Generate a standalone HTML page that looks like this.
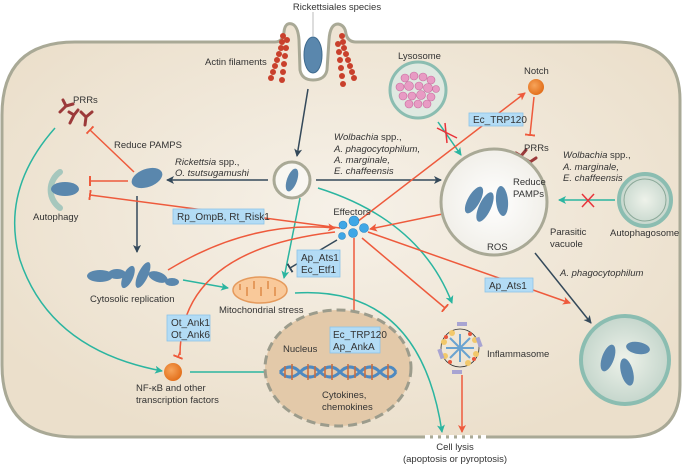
<!DOCTYPE html>
<html><head><style>
html,body{margin:0;padding:0;background:#fff;}
svg{display:block;font-family:"Liberation Sans",sans-serif;}
</style></head><body>
<svg width="685" height="464" viewBox="0 0 685 464" xmlns="http://www.w3.org/2000/svg">
<defs>
<radialGradient id="bg" cx="0.5" cy="0.45" r="0.6"><stop offset="0" stop-color="#f6f1e8"/><stop offset="1" stop-color="#ebdfcb"/></radialGradient>
<radialGradient id="vac" cx="0.5" cy="0.5" r="0.5"><stop offset="0" stop-color="#fff"/><stop offset="1" stop-color="#f1efe9"/></radialGradient>
<radialGradient id="grn" cx="0.5" cy="0.5" r="0.5"><stop offset="0" stop-color="#eef2ea"/><stop offset="1" stop-color="#c5d6cc"/></radialGradient>
<radialGradient id="org" cx="0.4" cy="0.4" r="0.6"><stop offset="0" stop-color="#f7a45a"/><stop offset="1" stop-color="#e3711d"/></radialGradient>
<marker id="ad" markerWidth="8" markerHeight="8" refX="7" refY="4" orient="auto" markerUnits="userSpaceOnUse"><path d="M0,0 L8,4 L0,8 L2,4z" fill="#34495a"/></marker>
<marker id="at" markerWidth="8" markerHeight="8" refX="7" refY="4" orient="auto" markerUnits="userSpaceOnUse"><path d="M0,0 L8,4 L0,8 L2,4z" fill="#2bb5a0"/></marker>
<marker id="ar" markerWidth="8" markerHeight="8" refX="7" refY="4" orient="auto" markerUnits="userSpaceOnUse"><path d="M0,0 L8,4 L0,8 L2,4z" fill="#ee5a3c"/></marker>
<marker id="br" markerWidth="2" markerHeight="10" refX="1" refY="5" orient="auto" markerUnits="userSpaceOnUse"><rect x="0" y="0" width="2" height="10" fill="#ee5a3c"/></marker>
<marker id="bd" markerWidth="2" markerHeight="10" refX="1" refY="5" orient="auto" markerUnits="userSpaceOnUse"><rect x="0" y="0" width="2" height="10" fill="#34495a"/></marker>
</defs>
<path d="M75,42 L275,42 Q283,42 284,32 Q285,22 292,24 Q298,26 299,40 L300,70 Q302,80 313,80 Q325,80 327,70 L329,40 Q330,24 338,24 Q345,25 346,34 Q348,42 356,42 L615,42 Q680,42 680,100 L680,385 Q680,437 628,437 L75,437 Q2,437 2,365 L2,115 Q2,42 75,42 Z" fill="url(#bg)" stroke="#a9a996" stroke-width="3"/>
<line x1="425" y1="437" x2="487" y2="437" stroke="#fff" stroke-width="4" stroke-dasharray="5,3"/>
<g fill="#c9402c">
<circle cx="283" cy="36" r="3"/><circle cx="282" cy="42" r="3"/><circle cx="281" cy="48" r="3"/><circle cx="279" cy="54" r="3"/><circle cx="277" cy="60" r="3"/><circle cx="275" cy="66" r="3"/><circle cx="273" cy="72" r="3"/><circle cx="271" cy="78" r="3"/>
<circle cx="287" cy="40" r="3"/><circle cx="286" cy="48" r="3"/><circle cx="285" cy="56" r="3"/><circle cx="284" cy="64" r="3"/><circle cx="283" cy="72" r="3"/><circle cx="282" cy="80" r="3"/>
<circle cx="342" cy="36" r="3"/><circle cx="343" cy="42" r="3"/><circle cx="344" cy="48" r="3"/><circle cx="346" cy="54" r="3"/><circle cx="348" cy="60" r="3"/><circle cx="350" cy="66" r="3"/><circle cx="352" cy="72" r="3"/><circle cx="354" cy="78" r="3"/>
<circle cx="338" cy="44" r="3"/><circle cx="339" cy="52" r="3"/><circle cx="340" cy="60" r="3"/><circle cx="341" cy="68" r="3"/><circle cx="342" cy="76" r="3"/><circle cx="343" cy="84" r="3"/>
</g>
<line x1="313" y1="12" x2="313" y2="36" stroke="#bbb" stroke-width="1"/>
<ellipse cx="313" cy="55" rx="9" ry="18" fill="#5a87ad" stroke="#3f6a8e"/>
<g fill="none" stroke="#2bb5a0" stroke-width="1.5">
<path d="M55,128 Q0,190 20,260 Q50,350 162,371" marker-end="url(#at)"/>
<path d="M300,198 L284,278" marker-end="url(#at)"/>
<path d="M318,188 Q420,220 452,303" marker-end="url(#at)"/>
<path d="M183,280 L228,288" marker-end="url(#at)"/>
<path d="M295,293 Q420,285 442,432" marker-end="url(#at)"/>
<path d="M190,372 L275,372" marker-end="url(#at)"/>
<path d="M297,378 L297,400 L318,400" marker-end="url(#at)"/>
<path d="M438,122 L461,155" marker-end="url(#at)"/>
<path d="M615,200 L559,200" marker-end="url(#at)"/>
</g>
<g fill="none" stroke="#34495a" stroke-width="1.5">
<path d="M308,89 L297,156" marker-end="url(#ad)"/>
<path d="M268,180 L167,180" marker-end="url(#ad)"/>
<path d="M316,180 L441,180" marker-end="url(#ad)"/>
<path d="M137,196 L137,252" marker-end="url(#ad)"/>
<path d="M535,253 L591,323" marker-end="url(#ad)"/>
<path d="M337,240 L290,268" marker-end="url(#bd)"/>
</g>
<g fill="none" stroke="#ee5a3c" stroke-width="1.5">
<path d="M134,172 L90,130" marker-end="url(#br)"/>
<path d="M128,181 L90,181" marker-end="url(#br)"/>
<path d="M340,228 L90,195" marker-end="url(#br)"/>
<path d="M168,270 Q250,220 335,228" marker-end="url(#ar)"/>
<path d="M180,355 Q180,250 335,232" />
<path d="M180,352 L178,357" marker-end="url(#br)"/>
<path d="M357,222 L525,93" marker-end="url(#ar)"/>
<path d="M534,97 L530,135" marker-end="url(#br)"/>
<path d="M506,180 L513,166" marker-end="url(#br)"/>
<path d="M457,211 L370,229" marker-end="url(#ar)"/>
<path d="M493,225 L493,240" marker-end="url(#br)"/>
<path d="M354,238 L354,362" marker-end="url(#br)"/>
<path d="M362,238 L445,308" marker-end="url(#br)"/>
<path d="M368,232 L570,303" marker-end="url(#ar)"/>
<path d="M462,375 L462,432" marker-end="url(#ar)"/>
</g>
<g stroke="#e8333a" stroke-width="1.5">
<line x1="437" y1="128" x2="457" y2="138"/><line x1="445" y1="123" x2="447" y2="143"/>
<line x1="582" y1="194" x2="594" y2="207"/><line x1="594" y1="194" x2="582" y2="207"/>
</g>
<g fill="none" stroke="#9c3a3a" stroke-width="3" stroke-linecap="round">
<path d="M60,112 L66,106 L63,100 M66,106 L73,104"/>
<path d="M70,123 L74,115 L69,112 M74,115 L78,110"/>
<path d="M85,125 L86,117 L81,112 M86,117 L92,112"/>
<path d="M522,164 L521,156 L516,153 M521,156 L526,150"/>
<path d="M532,170 L530,162 L525,159 M530,162 L536,158"/>
</g>
<path d="M60,172 A22,22 0 0 0 60,208" fill="none" stroke="#a6c7bd" stroke-width="6" stroke-linecap="round"/>
<ellipse cx="65" cy="189" rx="14" ry="7" fill="#5a87ad"/>
<ellipse cx="147" cy="178" rx="16" ry="9" transform="rotate(-20 147 178)" fill="#5a87ad"/>
<circle cx="292" cy="180" r="18" fill="#f8f6f1" stroke="#a9a996" stroke-width="3"/>
<ellipse cx="292" cy="180" rx="5" ry="12" transform="rotate(20 292 180)" fill="#5a87ad"/>
<g fill="#5a87ad">
<ellipse cx="100" cy="276" rx="13" ry="6"/><ellipse cx="117" cy="274" rx="9" ry="5"/>
<ellipse cx="128" cy="277" rx="5" ry="12" transform="rotate(25 128 277)"/>
<ellipse cx="143" cy="275" rx="5" ry="14" transform="rotate(25 143 275)"/>
<ellipse cx="158" cy="277" rx="10" ry="5" transform="rotate(20 158 277)"/>
<ellipse cx="172" cy="282" rx="7" ry="4"/>
</g>
<ellipse cx="260" cy="290" rx="27" ry="13" fill="#f9c99a" stroke="#e59a5c" stroke-width="1.5"/>
<path d="M240,290 v-6 M247,296 v-9 M254,289 v-8 M261,296 v-9 M268,289 v-8 M275,296 v-9" stroke="#e59a5c" stroke-width="2"/>
<circle cx="173" cy="372" r="9" fill="url(#org)"/>
<circle cx="536" cy="87" r="8" fill="url(#org)"/>
<ellipse cx="338" cy="368" rx="73" ry="58" fill="#e3c9a9" stroke="#9c9c8c" stroke-width="3" stroke-dasharray="9,5"/>
<path d="M280,372 Q290,362 300,372 T320,372 T340,372 T360,372 T380,372 T396,372" fill="none" stroke="#4e89c0" stroke-width="3"/>
<path d="M280,372 Q290,382 300,372 T320,372 T340,372 T360,372 T380,372 T396,372" fill="none" stroke="#4e89c0" stroke-width="3"/>
<path d="M285,366 v12 M292,364 v16 M308,364 v16 M315,366 v12 M325,366 v12 M332,364 v16 M348,364 v16 M355,366 v12 M365,366 v12 M372,364 v16 M388,364 v16" stroke="#c86a3a" stroke-width="1.5"/>
<circle cx="418" cy="90" r="28" fill="#dfe9e1" stroke="#8bbdb1" stroke-width="3"/>
<g fill="#e89bc4" stroke="#c66d9e" stroke-width="0.6">
<circle cx="405" cy="78" r="4"/><circle cx="414" cy="76" r="4"/><circle cx="423" cy="77" r="4"/><circle cx="431" cy="80" r="4"/>
<circle cx="400" cy="87" r="4"/><circle cx="409" cy="86" r="4.5"/><circle cx="419" cy="86" r="4"/><circle cx="428" cy="88" r="4.5"/><circle cx="436" cy="89" r="3.5"/>
<circle cx="403" cy="96" r="4"/><circle cx="412" cy="96" r="4"/><circle cx="421" cy="95" r="4.5"/><circle cx="431" cy="97" r="4"/>
<circle cx="409" cy="104" r="4"/><circle cx="418" cy="104" r="4"/><circle cx="427" cy="104" r="4"/>
</g>
<circle cx="494" cy="202" r="53" fill="url(#vac)" stroke="#a9a996" stroke-width="3"/>
<g fill="#5a87ad">
<ellipse cx="474" cy="200" rx="6" ry="15" transform="rotate(30 474 200)"/>
<ellipse cx="485" cy="207" rx="6" ry="16" transform="rotate(25 485 207)"/>
<ellipse cx="502" cy="201" rx="6" ry="15" transform="rotate(-5 502 201)"/>
</g>
<circle cx="645" cy="200" r="26" fill="url(#grn)" stroke="#8bbdb1" stroke-width="4"/>
<circle cx="645" cy="200" r="21" fill="none" stroke="#8aa898" stroke-width="1"/>
<circle cx="625" cy="360" r="44" fill="url(#grn)" stroke="#8bbdb1" stroke-width="4"/>
<g fill="#5a87ad">
<ellipse cx="608" cy="358" rx="6" ry="14" transform="rotate(20 608 358)"/>
<ellipse cx="638" cy="348" rx="12" ry="6" transform="rotate(10 638 348)"/>
<ellipse cx="627" cy="372" rx="6" ry="14" transform="rotate(-15 627 372)"/>
</g>
<g transform="translate(460,348)">
<circle r="19" fill="none" stroke="#333" stroke-width="0.8"/>
<g stroke="#6aa3d0" stroke-width="2"><line x1="-14" y1="0" x2="14" y2="0"/><line x1="0" y1="-14" x2="0" y2="14"/><line x1="-10" y1="-10" x2="10" y2="10"/><line x1="-10" y1="10" x2="10" y2="-10"/></g>
<g fill="#f2c86a"><circle cx="15" cy="-8" r="3"/><circle cx="-15" cy="8" r="3"/><circle cx="8" cy="15" r="3"/><circle cx="-8" cy="-15" r="3"/><circle cx="16" cy="6" r="3"/><circle cx="-16" cy="-6" r="3"/></g>
<g fill="#e8573c"><circle cx="10" cy="-14" r="2"/><circle cx="-10" cy="14" r="2"/><circle cx="14" cy="11" r="2"/><circle cx="-14" cy="-11" r="2"/></g>
<g fill="#a8a4d2"><rect x="18" y="-4" width="4" height="10" transform="rotate(-20)"/><rect x="-22" y="-6" width="4" height="10" transform="rotate(-20)"/><rect x="-3" y="-26" width="10" height="4"/><rect x="-8" y="22" width="10" height="4"/></g>
</g>
<g fill="#3fa7e6" stroke="#2a86c2" stroke-width="0.6">
<circle cx="343" cy="225" r="4"/><circle cx="354" cy="221" r="5"/><circle cx="364" cy="228" r="4.5"/><circle cx="342" cy="236" r="3.5"/><circle cx="353" cy="233" r="4.5"/>
</g>
<g fill="#b3dcf5" stroke="#8cc4e8" stroke-width="0.8">
<rect x="173" y="209" width="91" height="15"/>
<rect x="297" y="250" width="43" height="27"/>
<rect x="167" y="315" width="43" height="26"/>
<rect x="330" y="327" width="50" height="26"/>
<rect x="469" y="113" width="54" height="13"/>
<rect x="485" y="278" width="48" height="14"/>
</g>
<g font-size="10" fill="#333">
<text x="177" y="220">Rp_OmpB, Rt_Risk1</text>
<text x="301" y="261">Ap_Ats1</text><text x="301" y="273">Ec_Etf1</text>
<text x="171" y="326">Ot_Ank1</text><text x="171" y="338">Ot_Ank6</text>
<text x="333" y="338">Ec_TRP120</text><text x="333" y="350">Ap_AnkA</text>
<text x="473" y="123">Ec_TRP120</text>
<text x="489" y="289">Ap_Ats1</text>
</g>
<g font-size="9.5" fill="#333">
<text x="337" y="10" text-anchor="middle">Rickettsiales species</text>
<text x="205" y="65">Actin filaments</text>
<text x="73" y="103">PRRs</text>
<text x="114" y="148">Reduce PAMPS</text>
<text x="33" y="220">Autophagy</text>
<text x="352" y="215" text-anchor="middle">Effectors</text>
<text x="90" y="302">Cytosolic replication</text>
<text x="219" y="313">Mitochondrial stress</text>
<text x="136" y="391">NF-κB and other</text>
<text x="136" y="403">transcription factors</text>
<text x="283" y="352">Nucleus</text>
<text x="322" y="398">Cytokines,</text>
<text x="322" y="410">chemokines</text>
<text x="487" y="357">Inflammasome</text>
<text x="398" y="59">Lysosome</text>
<text x="524" y="74">Notch</text>
<text x="524" y="151">PRRs</text>
<text x="513" y="185">Reduce</text><text x="513" y="197">PAMPs</text>
<text x="487" y="250">ROS</text>
<text x="550" y="235">Parasitic</text><text x="550" y="247">vacuole</text>
<text x="610" y="236">Autophagosome</text>
<text x="455" y="450" text-anchor="middle">Cell lysis</text>
<text x="455" y="462" text-anchor="middle">(apoptosis or pyroptosis)</text>
</g>
<g font-size="9.5" fill="#333" font-style="italic">
<text x="175" y="165">Rickettsia<tspan font-style="normal"> spp.,</tspan></text>
<text x="175" y="176">O. tsutsugamushi</text>
<text x="334" y="140">Wolbachia<tspan font-style="normal"> spp.,</tspan></text>
<text x="334" y="152">A. phagocytophilum,</text>
<text x="334" y="163">A. marginale,</text>
<text x="334" y="174">E. chaffeensis</text>
<text x="563" y="158">Wolbachia<tspan font-style="normal"> spp.,</tspan></text>
<text x="563" y="170">A. marginale,</text>
<text x="563" y="181">E. chaffeensis</text>
<text x="560" y="276">A. phagocytophilum</text>
</g>
</svg>
</body></html>
